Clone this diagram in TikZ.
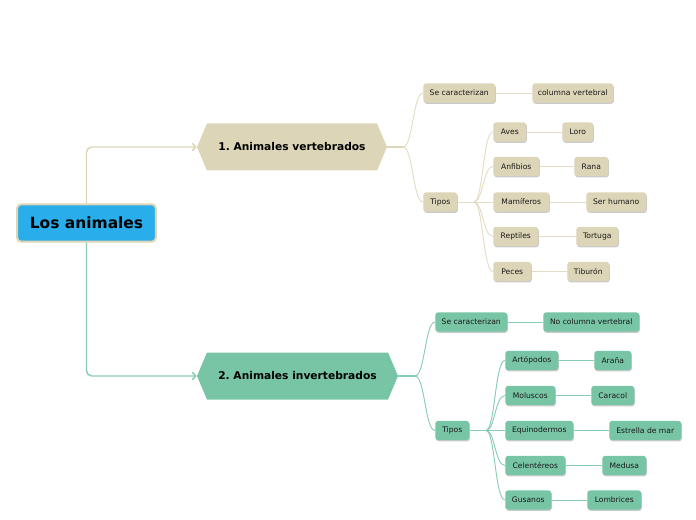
\documentclass[tikz,border=0pt]{standalone}
\usepackage{fontspec}
\setmainfont{DejaVu Sans}
\usetikzlibrary{shapes.symbols,arrows.meta,shadows}
\definecolor{beige}{HTML}{DCD5B7}
\definecolor{beigeline}{HTML}{E3DCC4}
\definecolor{verde}{HTML}{78C5A6}
\definecolor{verdeline}{HTML}{88CDB1}
\definecolor{azul}{HTML}{29AEEB}
\frenchspacing
\begin{document}
\begin{tikzpicture}[x=0.75pt,y=-0.75pt,
  leaf/.style={rounded corners=2.2pt, inner xsep=1pt, inner ysep=0pt,
    minimum height=14.5pt, font=\fontsize{5.7}{6.5}\selectfont, text=black!90, anchor=west,
    drop shadow={shadow xshift=0.5pt, shadow yshift=-0.9pt, opacity=0.35, fill=black!60}},
  bleaf/.style={leaf, fill=beige},
  gleaf/.style={leaf, fill=verde},
  bw/.style={minimum width=#1*0.75pt},
  hexa/.style={signal, signal to=west and east, signal pointer angle=134,
    minimum height=35.25pt, inner sep=0pt, font=\fontsize{8}{9}\selectfont\bfseries},
  rootn/.style={rounded corners=3pt, fill=azul, draw=beige, line width=1.5pt,
    minimum width=104pt, minimum height=28pt, inner sep=0pt,
    font=\fontsize{11.6}{13}\selectfont\bfseries},
  rootb/.style={draw=beige, line width=1.1pt, rounded corners=4pt,
    -{Straight Barb[length=2.5pt,width=5.5pt]}},
  rootg/.style={rootb, draw=verdeline},
  bl/.style={draw=beigeline, line width=0.7pt},
  gl/.style={draw=verdeline, line width=0.7pt},
  bmain/.style={draw=beige, line width=1pt},
  gmain/.style={draw=verdeline, line width=1pt}
]
\useasboundingbox (0,0) rectangle (696,520);

% root
\node[rootn] (root) at (86.5,223) {Los animales};

% main branches
\node[hexa, fill=beige, minimum width=142.5pt] (v1) at (292,147) {1. Animales vertebrados};
\node[hexa, fill=verde, minimum width=150.75pt] (v2) at (297.5,376) {2. Animales invertebrados};

\draw[rootb] (root.north) |- (v1.west);
\draw[rootg] (root.south) |- (v2.west);

% ---- vertebrados
\node[bleaf, bw=72] (se1) at (423,93) {Se caracterizan};
\node[bleaf, bw=81] (col1) at (532,93) {columna vertebral};
\node[bleaf, bw=34] (tip1) at (423,202) {Tipos};
\node[bleaf, bw=33] (aves) at (493,132) {Aves};
\node[bleaf, bw=31] (loro) at (562,132) {Loro};
\node[bleaf, bw=46] (anf) at (493,166.5) {Anfibios};
\node[bleaf, bw=34] (rana) at (574,166.5) {Rana};
\node[bleaf, bw=56] (mam) at (493,202) {Mamíferos};
\node[bleaf, bw=60] (ser) at (586,202) {Ser humano};
\node[bleaf, bw=45] (rep) at (493,236.5) {Reptiles};
\node[bleaf, bw=42] (tor) at (576,236.5) {Tortuga};
\node[bleaf, bw=38] (pec) at (493,271.5) {Peces};
\node[bleaf, bw=42] (tib) at (567,271.5) {Tiburón};

\coordinate (f1) at (403,147);
\draw[bmain] (v1.east) -- (f1);
\draw[bl] (f1) .. controls +(10,0) and +(-10,0) .. (se1.west);
\draw[bl] (f1) .. controls +(10,0) and +(-10,0) .. (tip1.west);
\coordinate (t1) at (474,202);
\draw[bl] (tip1.east) -- (t1);
\foreach \n in {aves,anf,mam,rep,pec}
  \draw[bl] (t1) .. controls +(9,0) and +(-10,0) .. (\n.west);
\draw[bl] (se1.east) -- (col1.west);
\draw[bl] (aves.east) -- (loro.west);
\draw[bl] (anf.east) -- (rana.west);
\draw[bl] (mam.east) -- (ser.west);
\draw[bl] (rep.east) -- (tor.west);
\draw[bl] (pec.east) -- (tib.west);

% ---- invertebrados
\node[gleaf, bw=72] (se2) at (435,322) {Se caracterizan};
\node[gleaf, bw=96] (col2) at (543,322) {No columna vertebral};
\node[gleaf, bw=34] (tip2) at (435,430.5) {Tipos};
\node[gleaf, bw=53] (art) at (505,360.5) {Artópodos};
\node[gleaf, bw=37] (ara) at (594,360.5) {Araña};
\node[gleaf, bw=50] (mol) at (505,395.5) {Moluscos};
\node[gleaf, bw=43] (car) at (591,395.5) {Caracol};
\node[gleaf, bw=68] (equ) at (505,430.5) {Equinodermos};
\node[gleaf, bw=72] (est) at (609,430.5) {Estrella de mar};
\node[gleaf, bw=60] (cel) at (505,465.5) {Celentéreos};
\node[gleaf, bw=44] (med) at (602,465.5) {Medusa};
\node[gleaf, bw=46] (gus) at (505,500) {Gusanos};
\node[gleaf, bw=54] (lom) at (587,500) {Lombrices};

\coordinate (f2) at (415,376);
\draw[gmain] (v2.east) -- (f2);
\draw[gl] (f2) .. controls +(10,0) and +(-10,0) .. (se2.west);
\draw[gl] (f2) .. controls +(10,0) and +(-10,0) .. (tip2.west);
\coordinate (t2) at (486,430.5);
\draw[gl] (tip2.east) -- (t2);
\foreach \n in {art,mol,equ,cel,gus}
  \draw[gl] (t2) .. controls +(9,0) and +(-10,0) .. (\n.west);
\draw[gl] (se2.east) -- (col2.west);
\draw[gl] (art.east) -- (ara.west);
\draw[gl] (mol.east) -- (car.west);
\draw[gl] (equ.east) -- (est.west);
\draw[gl] (cel.east) -- (med.west);
\draw[gl] (gus.east) -- (lom.west);
\end{tikzpicture}
\end{document}
